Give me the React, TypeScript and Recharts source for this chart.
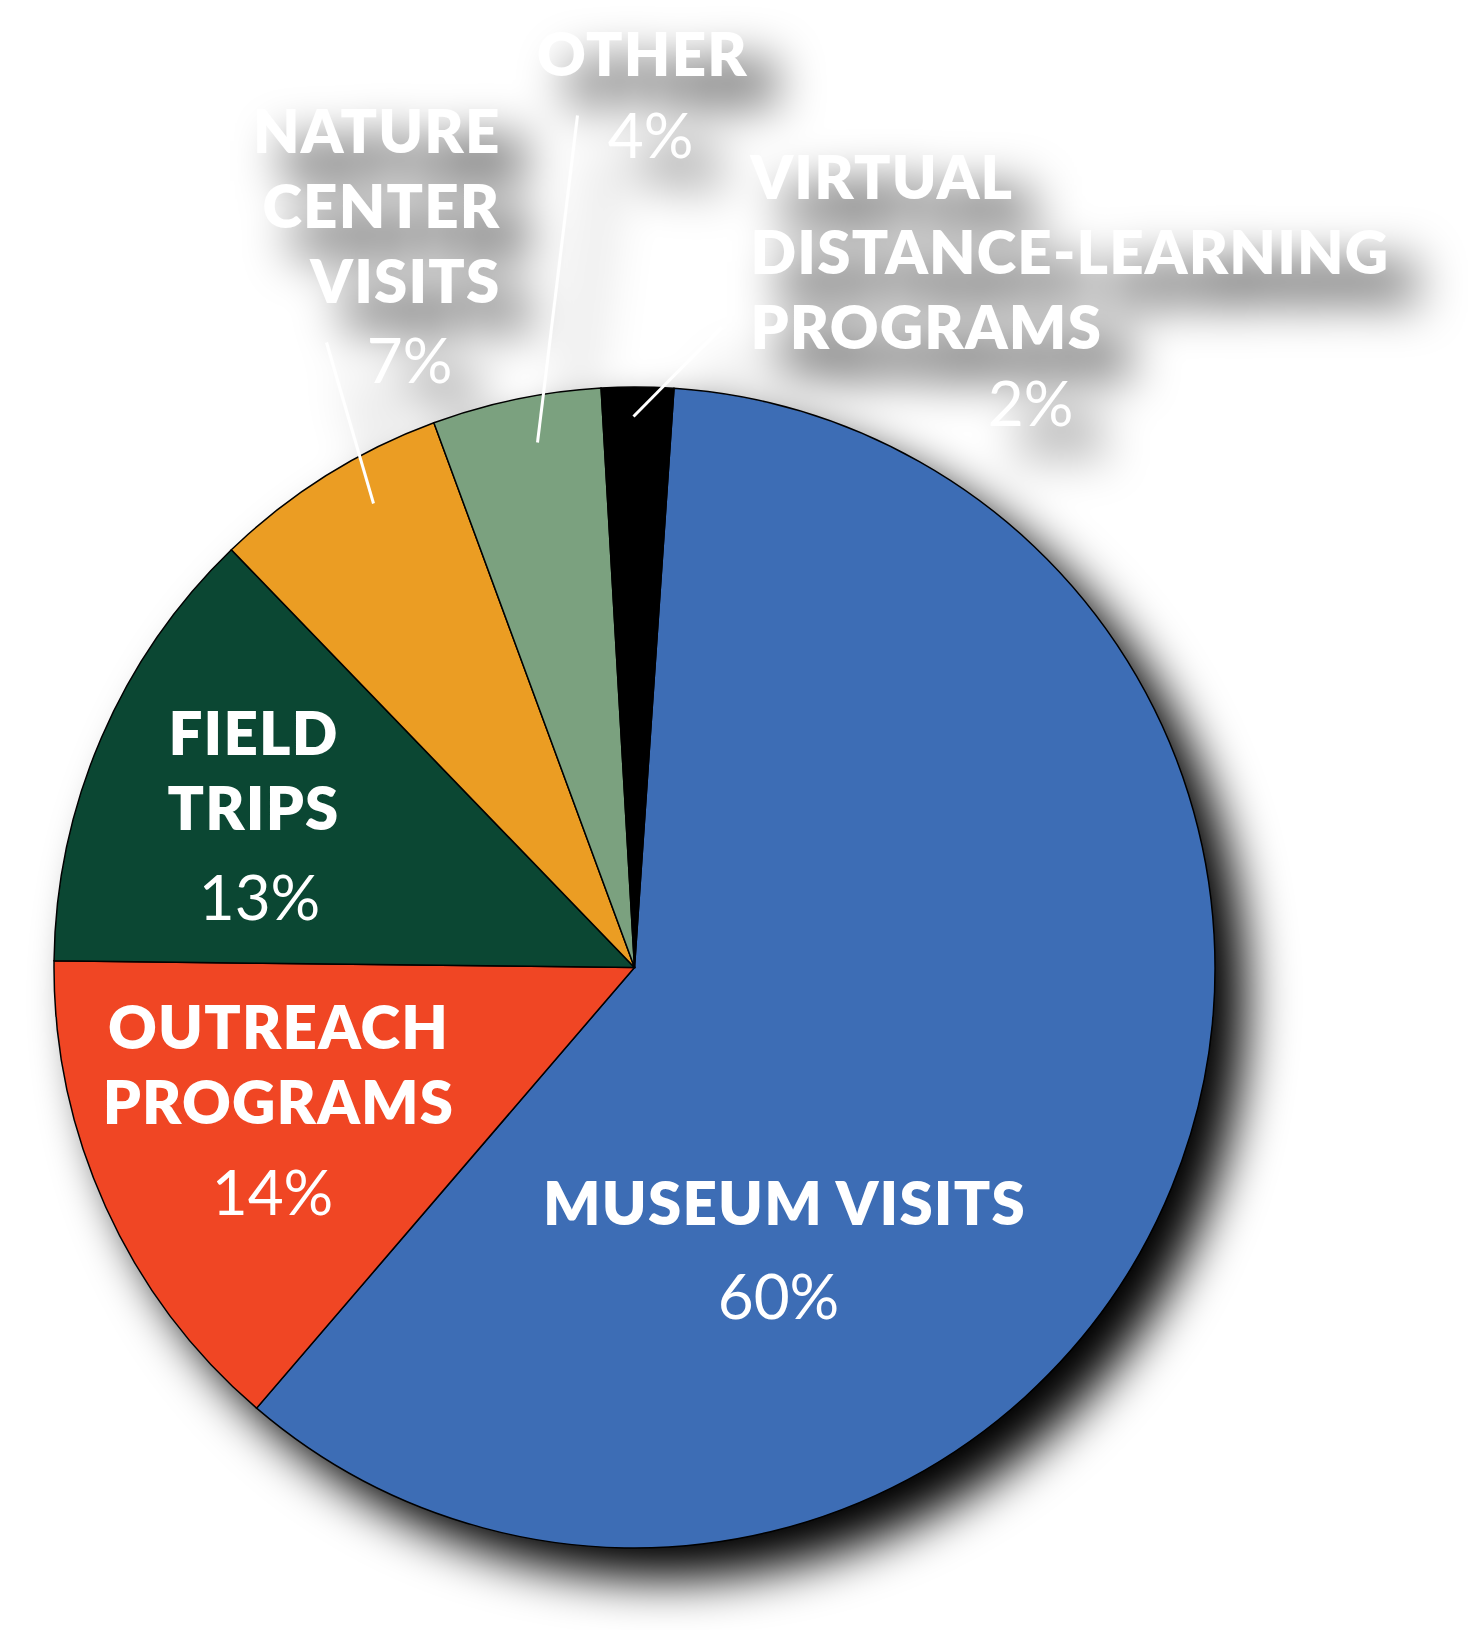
import React from 'react';
import { PieChart, Pie, Cell } from 'recharts';

// slice values (clockwise from the top)
const categories = [
  'MUSEUM VISITS',
  'OUTREACH\nPROGRAMS',
  'FIELD\nTRIPS',
  'NATURE\nCENTER\nVISITS',
  'OTHER',
  'VIRTUAL\nDISTANCE-LEARNING\nPROGRAMS',
];
const values = [60.2, 13.9, 12.6, 6.6, 4.7, 2.0];
const percentLabels = ['60%', '14%', '13%', '7%', '4%', '2%'];
const colors = ['#3D6DB5', '#F04624', '#0B4733', '#EB9D23', '#7BA17F', '#000000'];

const data = categories.map((name, i) => ({ name, value: values[i] }));

const FONT = 'Lato, "Open Sans", sans-serif';
const LINE_H = 75;

// label placement, offsets from the pie centre
const LABEL_LAYOUT: any[] = [
  { anchor: 'middle', nx: 150, ny: 257, px: 144, py: 351 },
  { anchor: 'middle', nx: -356, ny: 81, px: -362, py: 247 },
  { anchor: 'middle', nx: -381, ny: -213, px: -375, py: -48 },
  { anchor: 'end', nx: -134, ny: -815, px: -225, py: -585, line: [-261, -464, -308, -625] },
  { anchor: 'middle', nx: 8, ny: -892, px: 16, py: -810, line: [-97, -525, -57, -852] },
  { anchor: 'start', nx: 116, ny: -769, px: 396, py: -542, line: [-1, -551, 87, -640] },
];

const renderLabel = (props: any) => {
  const { cx, cy, index } = props;
  const l = LABEL_LAYOUT[index];
  const lines = categories[index].split('\n');
  return (
    <g>
      {l.line && (
        <line
          x1={cx + l.line[0]}
          y1={cy + l.line[1]}
          x2={cx + l.line[2]}
          y2={cy + l.line[3]}
          stroke="#fff"
          strokeWidth={3}
        />
      )}
      <text
        x={cx + l.nx}
        y={cy + l.ny}
        textAnchor={l.anchor}
        fill="#fff"
        fontFamily={FONT}
        fontWeight={800}
        fontSize={60}
        letterSpacing={1.2}
      >
        {lines.map((t, i) => (
          <tspan key={i} x={cx + l.nx} dy={i === 0 ? 0 : LINE_H}>
            {t}
          </tspan>
        ))}
      </text>
      <text
        x={cx + l.px}
        y={cy + l.py}
        textAnchor="middle"
        fill="#fff"
        fontFamily={FONT}
        fontWeight={400}
        fontSize={62}
      >
        {percentLabels[index]}
      </text>
    </g>
  );
};

export default function App() {
  return (
    <div
      style={{
        position: 'absolute',
        left: 0,
        top: 0,
        width: 1475,
        height: 1630,
        filter: 'drop-shadow(30px 30px 24px #000)',
      }}
    >
      <PieChart width={1475} height={1630} margin={{ top: 0, right: 0, bottom: 0, left: 0 }}>
        <Pie
          data={data}
          dataKey="value"
          nameKey="name"
          cx={634.5}
          cy={967.5}
          outerRadius={580.5}
          startAngle={86.1}
          endAngle={-273.9}
          stroke="#000"
          strokeWidth={1.5}
          label={renderLabel}
          labelLine={false}
          isAnimationActive={false}
        >
          {data.map((d, i) => (
            <Cell key={d.name} fill={colors[i]} />
          ))}
        </Pie>
      </PieChart>
    </div>
  );
}
